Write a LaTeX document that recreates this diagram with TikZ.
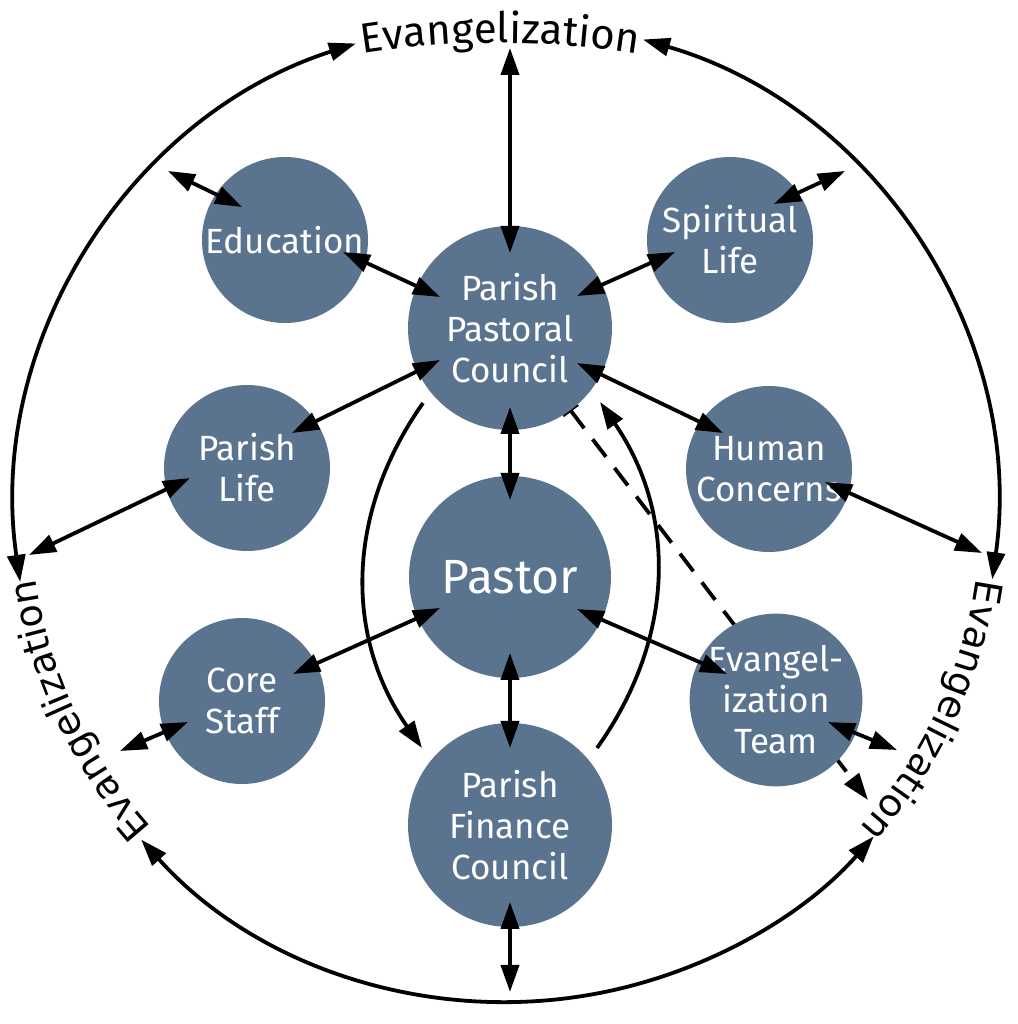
\documentclass[tikz,border=0pt]{standalone}
\usepackage{fontspec}
\setmainfont{Fira Sans}
\newfontfamily\evsidefamily{DejaVu Sans}
\newfontfamily\evtopfamily{Fira Sans}
\newcommand\evsidefont{\evsidefamily\fontsize{19pt}{23pt}\selectfont}
\newcommand\evtopfont{\evtopfamily\fontsize{21pt}{25pt}\selectfont}
\usetikzlibrary{arrows.meta,calc,decorations.text}
\definecolor{slate}{RGB}{90,116,143}
\pgfdeclarelayer{bg}
\pgfsetlayers{bg,main}
\begin{document}
\begin{tikzpicture}[x=0.5pt,y=0.5pt,
  >={Triangle[length=13.5pt,width=9pt]},
  conn/.style={line width=1.9pt,<->},
  one/.style={line width=1.9pt,->},
  bub/.style={circle,fill=slate,inner sep=0pt,text=white,align=center,
    font=\fontsize{17.5pt}{20.5pt}\selectfont,minimum size=83pt},
  big/.style={bub,minimum size=102pt},
  evtext/.style={decorate,decoration={text along path,text align=center,text={#1}}}]
\useasboundingbox (0,0) rectangle (1018,1024);
\coordinate (C) at (506,513);
\coordinate (topC) at (500,87);

% bubbles
\node[big] (ppc) at (510,696) {Parish\\Pastoral\\Council};
\node[big,minimum size=101pt,font=\fontsize{24pt}{28pt}\selectfont] (pastor) at (510,447) {Pastor};
\node[big] (pfc) at (510,199) {Parish\\Finance\\Council};
\node[bub] (edu) at (285,784) {Education};
\node[bub] (spir) at (730,784) {Spiritual\\Life};
\node[bub] (plife) at (247,556) {Parish\\Life};
\node[bub] (human) at (769,555) {Human\\Concerns};
\node[bub] (core) at (242,323) {Core\\Staff};
\node[bub] (evt) at (776,324) {Evangel-\\ization\\Team};

% free ends
\coordinate (topEnd) at (510,976);
\coordinate (bottomEnd) at (510,32);
\coordinate (eduOut) at (168,853);
\coordinate (spirOut) at (845,853);
\coordinate (plifeOut) at (29,469);
\coordinate (humanOut) at (982,471);
\coordinate (coreOut) at (120,273);
\coordinate (evtOut) at (897,274);
\coordinate (dashEnd) at (868,224);

% dashed line under the bubbles
\begin{pgfonlayer}{bg}
\draw[conn,dash pattern=on 11pt off 7pt] ($(ppc)+(45,-62)$) -- (dashEnd);
\end{pgfonlayer}

% connectors
\draw[conn] ($(ppc)+(0,75)$) -- (topEnd);
\draw[conn] ($(edu)+(58,-12)$) -- ($(ppc)+(-70,31)$);
\draw[conn] ($(edu)+(-43,33)$) -- (eduOut);
\draw[conn] ($(spir)+(-55,-12)$) -- ($(ppc)+(67,32)$);
\draw[conn] ($(spir)+(44,36)$) -- (spirOut);
\draw[conn] ($(ppc)+(-70,-32)$) -- ($(plife)+(45,35)$);
\draw[conn] ($(plife)+(-57,-10)$) -- (plifeOut);
\draw[conn] ($(ppc)+(67,-35)$) -- ($(human)+(-46,36)$);
\draw[conn] ($(human)+(56,-13)$) -- (humanOut);
\draw[conn] ($(ppc)+(0,-79)$) -- ($(pastor)+(0,77)$);
\draw[conn] ($(pastor)+(0,-76)$) -- ($(pfc)+(0,77)$);
\draw[conn] ($(pfc)+(0,-77)$) -- (bottomEnd);
\draw[conn] ($(core)+(51,27)$) -- ($(pastor)+(-70,-31)$);
\draw[conn] ($(core)+(-54,-21)$) -- (coreOut);
\draw[conn] ($(pastor)+(67,-32)$) -- ($(evt)+(-49,26)$);
\draw[conn] ($(evt)+(52,-22)$) -- (evtOut);

% curved council arrows
\draw[one] ($(ppc)+(-87,-75)$) to[bend right=35] ($(pfc)+(-88,77)$);
\draw[one] ($(pfc)+(87,77)$) to[bend right=35] ($(ppc)+(90,-74)$);

% outer circle arcs
\draw[conn] ($(C)+(188.3:491)$) arc[start angle=188.3,end angle=107.8,radius=491];
\draw[conn] ($(C)+(73.8:491)$) arc[start angle=73.8,end angle=-8,radius=491];
\draw[conn] ($(C)+(222:491)$) arc[start angle=222,end angle=318.5,radius=491];

% Evangelization labels along the circle
\path[evtext={|\evtopfont|Evangelization}] ($(topC)+(100:894)$) arc[start angle=100,end angle=80,radius=894];
\path[evtext={|\evsidefont|Evangelization}] ($(C)+(225:475)$) arc[start angle=225,end angle=185,radius=475];
\path[evtext={|\evsidefont|Evangelization}] ($(C)+(-5:475)$) arc[start angle=-5,end angle=-45,radius=475];
\end{tikzpicture}
\end{document}
